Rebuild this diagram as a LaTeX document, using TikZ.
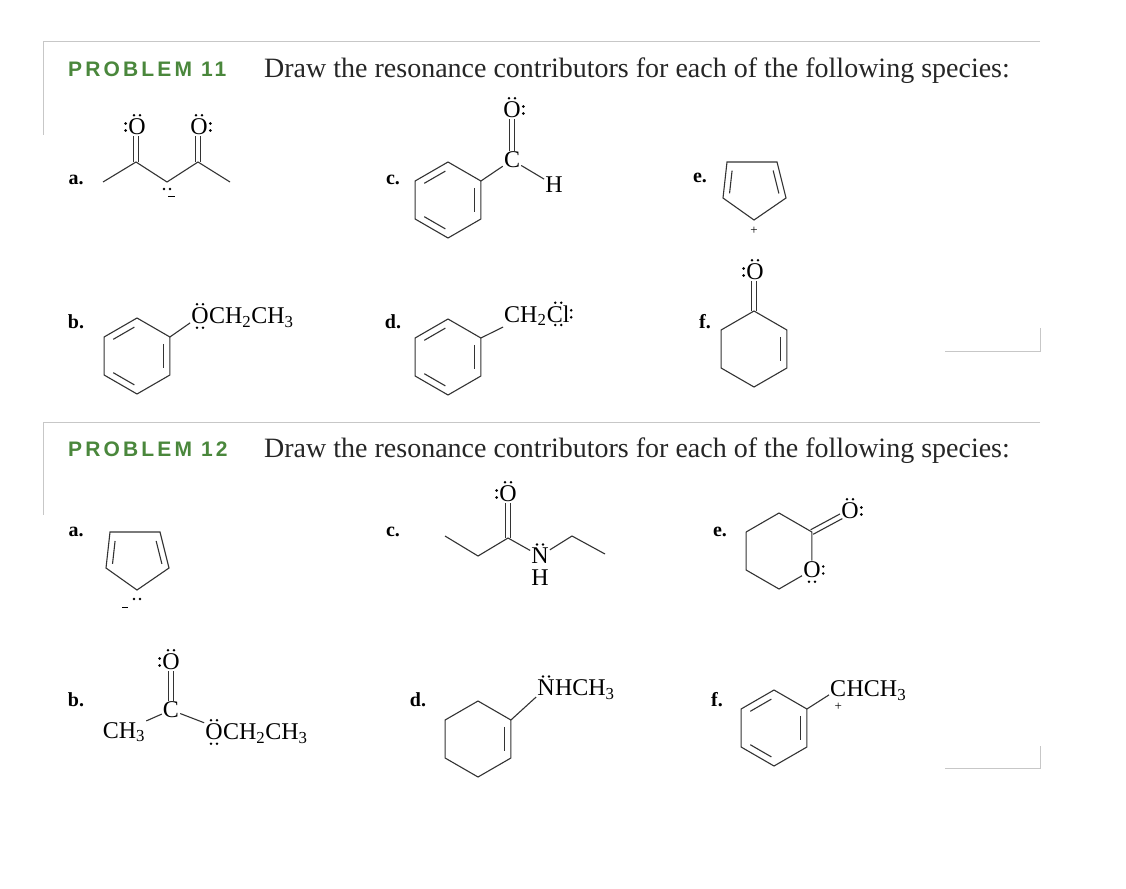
\documentclass[tikz,border=0pt]{standalone}
\usepackage{fontspec}
\setmainfont{Liberation Serif}
\setsansfont{Liberation Sans}
\usetikzlibrary{calc}
\definecolor{pgreen}{HTML}{4A873C}
\newcommand\lpN[1]{\fill ([xshift=-3pt,yshift=2.5pt]#1.north) circle(1.4pt) ([xshift=3pt,yshift=2.5pt]#1.north) circle(1.4pt);}
\newcommand\lpS[1]{\fill ([xshift=-3pt,yshift=-2.5pt]#1.south) circle(1.4pt) ([xshift=3pt,yshift=-2.5pt]#1.south) circle(1.4pt);}
\newcommand\lpW[1]{\fill ([xshift=-1.5pt,yshift=-3.5pt]#1.west) circle(1.4pt) ([xshift=-1.5pt,yshift=3.5pt]#1.west) circle(1.4pt);}
\newcommand\lpE[1]{\fill ([xshift=1.5pt,yshift=-3.5pt]#1.east) circle(1.4pt) ([xshift=1.5pt,yshift=3.5pt]#1.east) circle(1.4pt);}
\newcommand\inl[3]{\draw[bond,shorten <=3pt,shorten >=3pt] ($(#1c)!0.8!(#1#2)$) -- ($(#1c)!0.8!(#1#3)$);}
\newcommand\ringpts[3]{\coordinate (#1c) at (#2,#3);
 \foreach \i/\a in {1/90,2/30,3/-30,4/-90,5/-150,6/150} {\coordinate (#1\i) at ($(#1c)+(\a:38pt)$);}}
\newcommand\benz[3]{\ringpts{#1}{#2}{#3}
 \draw[bond] (#11)--(#12)--(#13)--(#14)--(#15)--(#16)--cycle;
 \inl{#1}{6}{1} \inl{#1}{2}{3} \inl{#1}{4}{5}}
\newcommand\dblpar[2]{\draw[bond] ($(#1)!2.6pt!90:(#2)$) -- ($(#2)!2.6pt!-90:(#1)$) ($(#1)!2.6pt!-90:(#2)$) -- ($(#2)!2.6pt!90:(#1)$);}
\begin{document}
\begin{tikzpicture}[x=1pt,y=-1pt,
 atom/.style={inner sep=1pt,font=\fontsize{24}{24}\selectfont},
 tail/.style={inner sep=0pt,anchor=base west,font=\fontsize{24}{24}\selectfont},
 lab/.style={inner sep=0pt,font=\fontsize{20}{20}\selectfont\bfseries},
 bond/.style={line width=1.1pt,color=black!80},
 frame/.style={draw=black!22,line width=1pt},
 head/.style={anchor=base west,inner sep=0pt,font=\sffamily\bfseries\fontsize{21}{21}\selectfont\addfontfeature{LetterSpace=15},text=pgreen},
 htext/.style={anchor=base west,inner sep=0pt,font=\fontsize{28}{28}\selectfont,text=black!85}]
\useasboundingbox[fill=white] (0,0) rectangle (1126,888);
% frames
\draw[frame] (1040,42) -- (43,42) -- (43,135);
\draw[frame] (945,351) -- (1040,351) -- (1040,328);
\draw[frame] (1040,422) -- (43,422) -- (43,515);
\draw[frame] (945,768) -- (1040,768) -- (1040,746);
% headers
\node[head] (h11) at (68,77) {PROBLEM 11};
\node[htext] (t11) at (264,78) {Draw the resonance contributors for each of the following species:};
\node[head] (h12) at (68,456) {PROBLEM 12};
\node[htext] (t12) at (264,457) {Draw the resonance contributors for each of the following species:};
% labels
\node[lab] (l1a) at (76,180) {a.};
\node[lab] (l1b) at (76,322) {b.};
\node[lab] (l1c) at (393,180) {c.};
\node[lab] (l1d) at (393,322) {d.};
\node[lab] (l1e) at (700,178) {e.};
\node[lab] (l1f) at (705,322) {f.};
\node[lab] (l2a) at (76,532) {a.};
\node[lab] (l2b) at (76,700) {b.};
\node[lab] (l2c) at (393,532) {c.};
\node[lab] (l2d) at (418,700) {d.};
\node[lab] (l2e) at (720,532) {e.};
\node[lab] (l2f) at (717,700) {f.};
% ---------- 11a
\coordinate (a1) at (103,182); \coordinate (a2) at (136,162); \coordinate (a3) at (167,182);
\coordinate (a4) at (198,162); \coordinate (a5) at (230,182);
\node[atom] (aO1) at (137,127) {O}; \node[atom] (aO2) at (199,127) {O};
\draw[bond] (a1)--(a2)--(a3)--(a4)--(a5);
\draw[bond] ([xshift=-2.6pt]a2) -- ([xshift=-2.6pt]a2|-aO1.south) ([xshift=2.6pt]a2) -- ([xshift=2.6pt]a2|-aO1.south);
\draw[bond] ([xshift=-2.6pt]a4) -- ([xshift=-2.6pt]a4|-aO2.south) ([xshift=2.6pt]a4) -- ([xshift=2.6pt]a4|-aO2.south);
\lpN{aO1} \lpW{aO1} \lpN{aO2} \lpE{aO2}
\fill (164,189) circle(1.4pt) (170,189) circle(1.4pt);
\draw[line width=0.8pt] (168,196) -- (175,196);
% ---------- 11c
\benz{c}{448}{200}
\node[atom] (cC) at (512,160) {C};
\node[atom] (cO) at (512,110) {O};
\node[atom] (cH) at (554,185) {H};
\draw[bond] (c2) -- (cC); \draw[bond] (cC) -- (cH);
\draw[bond] ([xshift=-2.6pt]cC.north) -- ([xshift=-2.6pt]cO.south) ([xshift=2.6pt]cC.north) -- ([xshift=2.6pt]cO.south);
\lpN{cO} \lpE{cO}
% ---------- 11e
\coordinate (ec) at (754,190);
\coordinate (e1) at (727,162); \coordinate (e2) at (777,162); \coordinate (e3) at (786,198);
\coordinate (e4) at (754,220); \coordinate (e5) at (723,198);
\draw[bond] (e1)--(e2)--(e3)--(e4)--(e5)--cycle;
\inl{e}{5}{1} \inl{e}{2}{3}
\node[inner sep=0pt,font=\fontsize{13}{13}\selectfont] (ep) at (754,231) {+};
% ---------- 11b
\benz{b}{137}{356}
\node[atom] (bO) at (200,316) {O};
\node[tail] (bR) at ([xshift=-1pt]bO.base east) {CH\textsubscript{2}CH\textsubscript{3}};
\draw[bond] (b2) -- (bO);
\lpN{bO} \lpS{bO}
% ---------- 11d
\benz{d}{448}{357}
\node[atom,anchor=west] (dCH) at (503,316) {CH\textsubscript{2}};
\node[tail] (dCl) at ([xshift=-1pt]dCH.base east) {Cl};
\draw[bond] (d2) -- (dCH);
\lpN{dCl} \lpS{dCl} \lpE{dCl}
% ---------- 11f
\ringpts{f}{754}{349}
\node[atom] (fO) at (755,272) {O};
\draw[bond] (f1)--(f2)--(f3)--(f4)--(f5)--(f6)--cycle;
\inl{f}{2}{3}
\draw[bond] ([xshift=-2.6pt]f1) -- ([xshift=-2.6pt]f1|-fO.south) ([xshift=2.6pt]f1) -- ([xshift=2.6pt]f1|-fO.south);
\lpN{fO} \lpW{fO}
% ---------- 12a
\coordinate (gc) at (137,562);
\coordinate (g1) at (110,532); \coordinate (g2) at (160,532); \coordinate (g3) at (169,568);
\coordinate (g4) at (137,590); \coordinate (g5) at (106,568);
\draw[bond] (g1)--(g2)--(g3)--(g4)--(g5)--cycle;
\inl{g}{5}{1} \inl{g}{2}{3}
\fill (134,599) circle(1.4pt) (140,599) circle(1.4pt);
\draw[line width=0.8pt] (122,607) -- (128,607);
% ---------- 12b
\node[atom] (kO) at (171,662) {O};
\node[atom] (kC) at (171,710) {C};
\node[atom] (kCH) at (124,732) {CH\textsubscript{3}};
\node[atom] (kO2) at (214,732) {O};
\node[tail] (kR) at ([xshift=-1pt]kO2.base east) {CH\textsubscript{2}CH\textsubscript{3}};
\draw[bond] ([xshift=-2.6pt]kC.north) -- ([xshift=-2.6pt]kO.south) ([xshift=2.6pt]kC.north) -- ([xshift=2.6pt]kO.south);
\draw[bond] (kCH.north east) -- (kC); \draw[bond] (kC) -- (kO2.north west);
\lpN{kO} \lpW{kO} \lpN{kO2} \lpS{kO2}
% ---------- 12c
\coordinate (m1) at (445,536); \coordinate (m2) at (478,556); \coordinate (m3) at (508,538);
\coordinate (m5) at (572,536); \coordinate (m6) at (605,554);
\node[atom] (mN) at (540,556) {N};
\node[atom] (mH) at (540,578) {H};
\node[atom] (mO) at (508,494) {O};
\draw[bond] (m1)--(m2)--(m3)--(mN)--(m5)--(m6);
\draw[bond] ([xshift=-2.6pt]m3) -- ([xshift=-2.6pt]m3|-mO.south) ([xshift=2.6pt]m3) -- ([xshift=2.6pt]m3|-mO.south);
\lpN{mO} \lpW{mO} \lpN{mN}
% ---------- 12d
\ringpts{n}{478}{739}
\draw[bond] (n1)--(n2)--(n3)--(n4)--(n5)--(n6)--cycle;
\inl{n}{2}{3}
\node[atom] (nN) at (546,688) {N};
\node[tail] (nR) at ([xshift=-1pt]nN.base east) {HCH\textsubscript{3}};
\draw[bond] (n2) -- (nN);
\lpN{nN}
% ---------- 12e
\ringpts{p}{779}{551}
\node[atom] (pOr) at (p3) {O};
\node[atom] (pO) at (850,511) {O};
\coordinate (pOb) at ([xshift=1pt,yshift=4pt]pO.south west);
\draw[bond] (p6)--(p1)--(p2)--(pOr)--(p4)--(p5)--(p6);
\dblpar{p2}{pOb}
\lpN{pO} \lpE{pO} \lpS{pOr} \lpE{pOr}
% ---------- 12f
\benz{q}{774}{728}
\node[atom,anchor=west] (qC) at (829,689) {C};
\node[tail] (qR) at ([xshift=-1pt]qC.base east) {HCH\textsubscript{3}};
\node[inner sep=0pt,font=\fontsize{13}{13}\selectfont] (qp) at ([yshift=-9pt]qC.south) {+};
\draw[bond] (q2) -- (qC);
\end{tikzpicture}
\end{document}
